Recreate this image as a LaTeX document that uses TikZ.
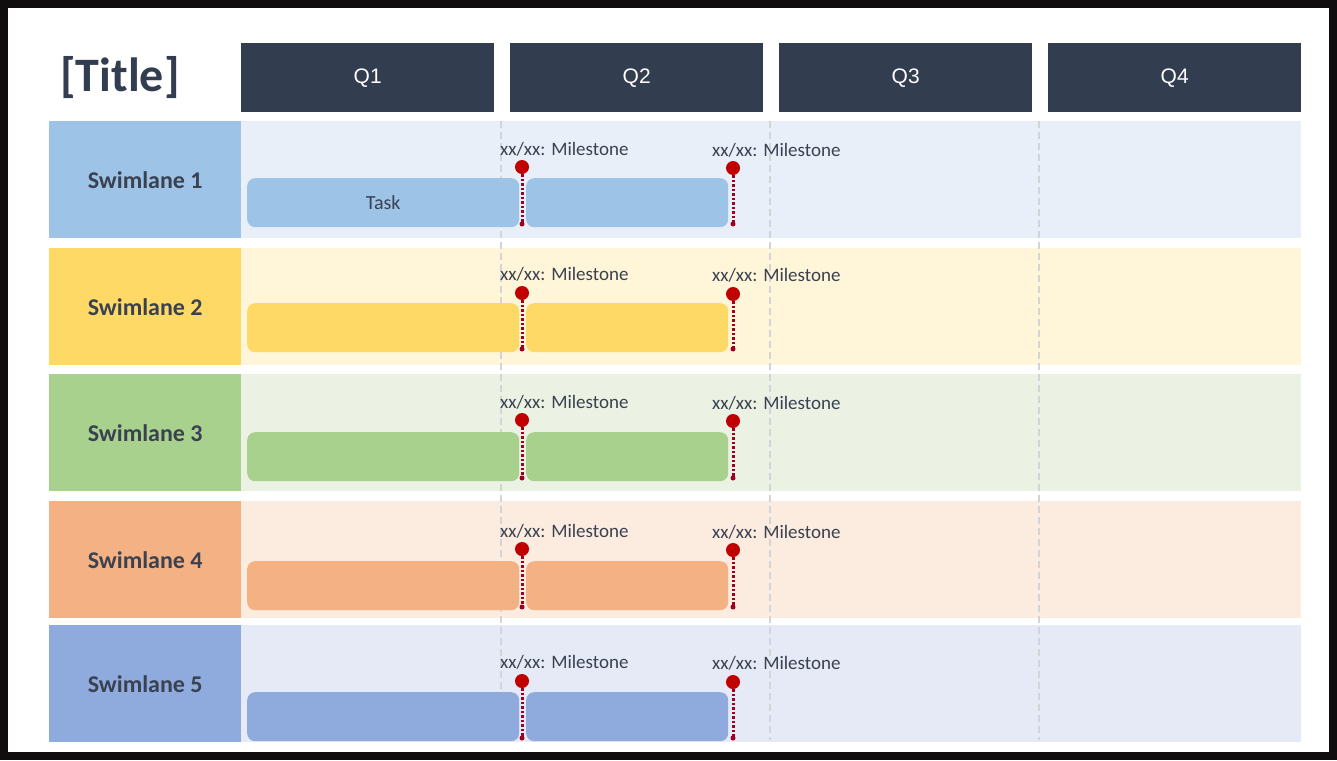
\documentclass[tikz,border=0pt]{standalone}
\usepackage{fontspec}
\setmainfont{Carlito}
\newfontfamily\qfont{Liberation Sans}
\usetikzlibrary{positioning}
\definecolor{frame}{rgb}{0.06, 0.05, 0.05}
\definecolor{slate}{HTML}{323D4F}
\definecolor{lanetext}{HTML}{3A4150}
\definecolor{msred}{HTML}{C00000}
\definecolor{msdark}{HTML}{A00020}
\definecolor{gridgray}{HTML}{D2D4D8}
\definecolor{lane1}{HTML}{9DC3E6}
\definecolor{lane2}{HTML}{FFD966}
\definecolor{lane3}{HTML}{A9D18E}
\definecolor{lane4}{HTML}{F4B183}
\definecolor{lane5}{HTML}{8FAADC}
\definecolor{band1}{HTML}{E8EFF9}
\definecolor{band2}{HTML}{FFF5D9}
\definecolor{band3}{HTML}{EBF2E4}
\definecolor{band4}{HTML}{FCEBDF}
\definecolor{band5}{HTML}{E5EAF6}
\tikzset{quarter/.style = {fill=slate, text=white, minimum width=253pt, minimum height=69pt,
                           inner sep=0pt, anchor=north west, font=\qfont\fontsize{21}{21}\selectfont},
         lane/.style = {minimum width=192pt, minimum height=117pt, inner sep=0pt, anchor=north west,
                        text=lanetext, font=\bfseries\fontsize{24}{24}\selectfont},
         band/.style = {minimum width=1060pt, minimum height=117pt, inner sep=0pt, anchor=north west},
         task/.style = {rounded corners=8pt, minimum height=49pt, inner sep=0pt, anchor=north west,
                        text=lanetext, font=\fontsize{20}{20}\selectfont},
         milestone/.style = {circle, fill=msred, minimum size=14pt, inner sep=0pt},
         mslabel/.style = {text=lanetext, font=\fontsize{19}{19}\selectfont, inner sep=0pt, anchor=west},
         msline/.style = {msdark, line width=3pt, dash pattern=on 2.5pt off 2pt},
         gridline/.style = {gridgray, line width=2pt, dash pattern=on 7pt off 4pt}}

\begin{document}
\begin{tikzpicture}[x=1pt, y=-1pt]
    \useasboundingbox (0, 0) rectangle (1337, 760);
    \fill [frame] (0, 0) rectangle (1337, 760);
    \fill [white] (8, 8) rectangle (1329, 752);

    \node [text=slate, font=\bfseries\fontsize{48}{48}\selectfont, inner sep=0pt] (title) at (120, 78) {[Title]};
    \foreach \q/\x in {1/241, 2/510, 3/779, 4/1048}
        \node [quarter] (q\q) at (\x, 43) {Q\q};

    % lanes and their bands
    \foreach \i/\top in {1/121, 2/248, 3/374, 4/501, 5/625} {
        \node [lane, fill=lane\i] (lane\i) at (49, \top) {Swimlane \i};
        \node [band, fill=band\i] (band\i) at (241, \top) {};
    }

    \foreach \x in {501, 770, 1039}
        \draw [gridline] (\x, 121) -- (\x, 740);

    % tasks and milestones
    \foreach \i/\tsk/\dot/\lbl in {1/178/167/149, 2/303/293/274, 3/432/420/402, 4/561/549/531, 5/692/681/662} {
        \node [task, fill=lane\i, minimum width=272pt] (taskA\i) at (247, \tsk) {\ifnum\i=1 Task\fi};
        \node [task, fill=lane\i, minimum width=202pt] (taskB\i) at (526, \tsk) {};

        \node [milestone] (msA\i) at (522, \dot) {};
        \node [milestone] (msB\i) at (733, \dot+1) {};
        \coordinate (endA\i) at (522, \tsk+46);
        \coordinate (endB\i) at (733, \tsk+46);
        \draw [msline] (msA\i) -- (endA\i);
        \draw [msline] (msB\i) -- (endB\i);
        \fill [msdark] (endA\i) circle (2.5pt);
        \fill [msdark] (endB\i) circle (2.5pt);

        \node [mslabel] (lblA\i) at (500, \lbl) {xx/xx: Milestone};
        \node [mslabel] (lblB\i) at (712, \lbl+1) {xx/xx: Milestone};
    }
\end{tikzpicture}
\end{document}
